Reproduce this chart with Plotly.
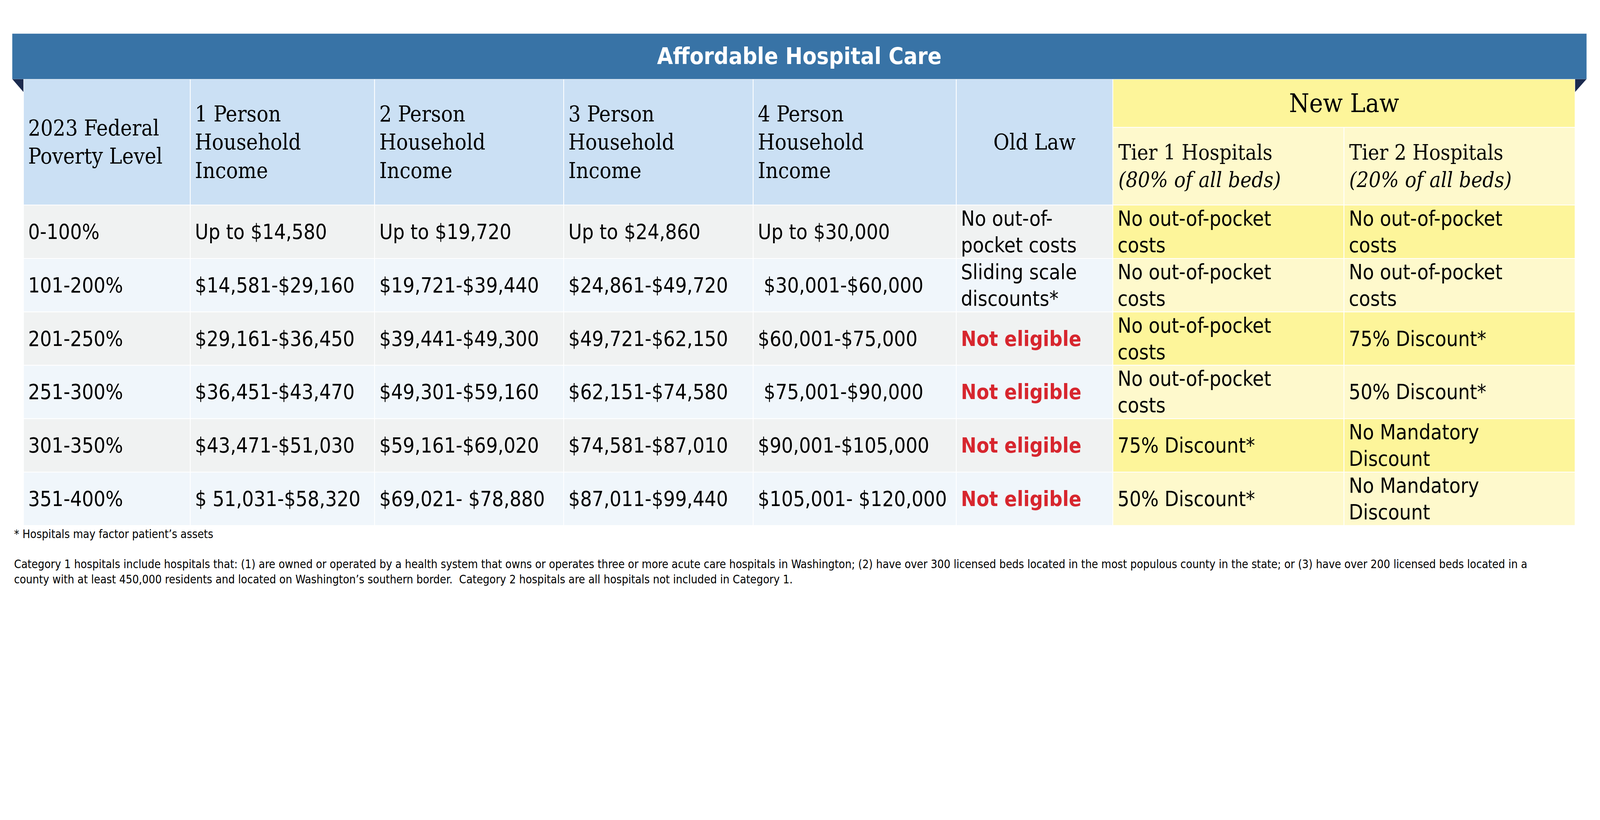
import plotly.graph_objects as go

# data
title = "Affordable Hospital Care"
col_heads = ["2023 Federal<br>Poverty Level", "1 Person<br>Household<br>Income", "2 Person<br>Household<br>Income",
             "3 Person<br>Household<br>Income", "4 Person<br>Household<br>Income", "Old Law"]
new_law = "New Law"
tier_heads = ["Tier 1 Hospitals<br><i>(80% of all beds)</i>", "Tier 2 Hospitals<br><i>(20% of all beds)</i>"]
fpl = ["0-100%", "101-200%", "201-250%", "251-300%", "301-350%", "351-400%"]
p1 = ["Up to $14,580", "$14,581-$29,160", "$29,161-$36,450", "$36,451-$43,470", "$43,471-$51,030", "$ 51,031-$58,320"]
p2 = ["Up to $19,720", "$19,721-$39,440", "$39,441-$49,300", "$49,301-$59,160", "$59,161-$69,020", "$69,021- $78,880"]
p3 = ["Up to $24,860", "$24,861-$49,720", "$49,721-$62,150", "$62,151-$74,580", "$74,581-$87,010", "$87,011-$99,440"]
p4 = ["Up to $30,000", " $30,001-$60,000", "$60,001-$75,000", " $75,001-$90,000", "$90,001-$105,000", "$105,001- $120,000"]
old_law = ["No out-of-<br>pocket costs", "Sliding scale<br>discounts*", "Not eligible", "Not eligible", "Not eligible", "Not eligible"]
tier1 = ["No out-of-pocket<br>costs", "No out-of-pocket<br>costs", "No out-of-pocket<br>costs", "No out-of-pocket<br>costs",
         "75% Discount*", "50% Discount*"]
tier2 = ["No out-of-pocket<br>costs", "No out-of-pocket<br>costs", "75% Discount*", "50% Discount*",
         "No Mandatory<br>Discount", "No Mandatory<br>Discount"]
note1 = "* Hospitals may factor patient’s assets"
note2 = ("Category 1 hospitals include hospitals that: (1) are owned or operated by a health system that owns or operates three or more "
         "acute care hospitals in Washington; (2) have over 300 licensed beds located in the most populous county in the state; or (3) have over 200 licensed beds located in a")
note3 = ("county with at least 450,000 residents and located on Washington’s southern border.  Category 2 hospitals are all hospitals not included in Category 1.")

# layout in reference-pixel units (axes 0..5600 x 0..2100)
W, H = 5600, 2100
FW = 4096            # figure css width; fonts scaled to match
S = FW / W
xs = [71, 655, 1300, 1962, 2625, 3336, 3884, 4693, 5502]
bar_top, head_top, head_bot, newlaw_bot = 107, 266, 707, 435
row_h = 187
SANS = "DejaVu Sans Condensed"
SERIF = "DejaVu Serif Condensed"
BLUE, LBLUE = "#3873A6", "#CBE0F4"
Y1, Y2 = "#FDF59A", "#FEF9CC"
GRAY, PALE = "#F0F2F2", "#F0F6FB"

fig = go.Figure()
shapes, ann = [], []

def rect(x0, y0, x1, y1, color):
    shapes.append(dict(type="rect", x0=x0, y0=y0, x1=x1, y1=y1, fillcolor=color,
                       line=dict(color="white", width=2), layer="below"))

def text(x, y, s, size, font=SANS, color="black", xanchor="left", bold=False):
    if bold:
        s = "<b>" + s + "</b>"
    ann.append(dict(x=x, y=y, text=s, showarrow=False, xanchor=xanchor, yanchor="middle", align=xanchor,
                    font=dict(family=font, size=size * S, color=color)))

# title ribbon
shapes.append(dict(type="path", path=f"M 32 {head_top} L 71 {head_top} L 71 {head_top+45} Z", fillcolor="#1B2A4E", line=dict(width=0)))
shapes.append(dict(type="path", path=f"M 5502 {head_top} L 5542 {head_top} L 5502 {head_top+45} Z", fillcolor="#1B2A4E", line=dict(width=0)))
shapes.append(dict(type="rect", x0=32, y0=bar_top, x1=5542, y1=head_top, fillcolor=BLUE, line=dict(width=0)))
text((32 + 5542) / 2, (bar_top + head_top) / 2, title, 80, color="white", xanchor="center", bold=True)

# header
for i, h in enumerate(col_heads):
    rect(xs[i], head_top, xs[i + 1], head_bot, LBLUE)
    if i == 5:
        text((xs[i] + xs[i + 1]) / 2, (head_top + head_bot) / 2, h, 76, font=SERIF, xanchor="center")
    else:
        text(xs[i] + 14, (head_top + head_bot) / 2, h, 76, font=SERIF)
rect(xs[6], head_top, xs[8], newlaw_bot, Y1)
text((xs[6] + xs[8]) / 2, (head_top + newlaw_bot) / 2, new_law, 90, font=SERIF, xanchor="center")
for j, h in enumerate(tier_heads):
    rect(xs[6 + j], newlaw_bot, xs[7 + j], head_bot, Y2)
    text(xs[6 + j] + 16, (newlaw_bot + head_bot) / 2, h, 74, font=SERIF)

# body
cols = [fpl, p1, p2, p3, p4, old_law, tier1, tier2]
for r in range(len(fpl)):
    y0 = head_bot + r * row_h
    yc = y0 + row_h / 2
    for c, col in enumerate(cols):
        if c < 6:
            fill = GRAY if r % 2 == 0 else PALE
        else:
            fill = Y1 if r % 2 == 0 else Y2
        rect(xs[c], y0, xs[c + 1], y0 + row_h, fill)
        v = col[r]
        if v == "Not eligible":
            text(xs[c] + 14, yc, v, 72, color="#D7262E", bold=True)
        else:
            text(xs[c] + 14, yc, v, 72)

bottom = head_bot + len(fpl) * row_h
text(36, bottom + 30, note1, 40)
text(36, 1964, note2, 40)
text(36, 2018, note3, 40)

fig.update_layout(width=FW, height=round(H * S), margin=dict(l=0, r=0, t=0, b=0), plot_bgcolor="white", paper_bgcolor="white",
                  shapes=shapes, annotations=ann, showlegend=False)
fig.update_xaxes(range=[0, W], visible=False)
fig.update_yaxes(range=[H, 0], visible=False)
fig.write_html("out.html")
